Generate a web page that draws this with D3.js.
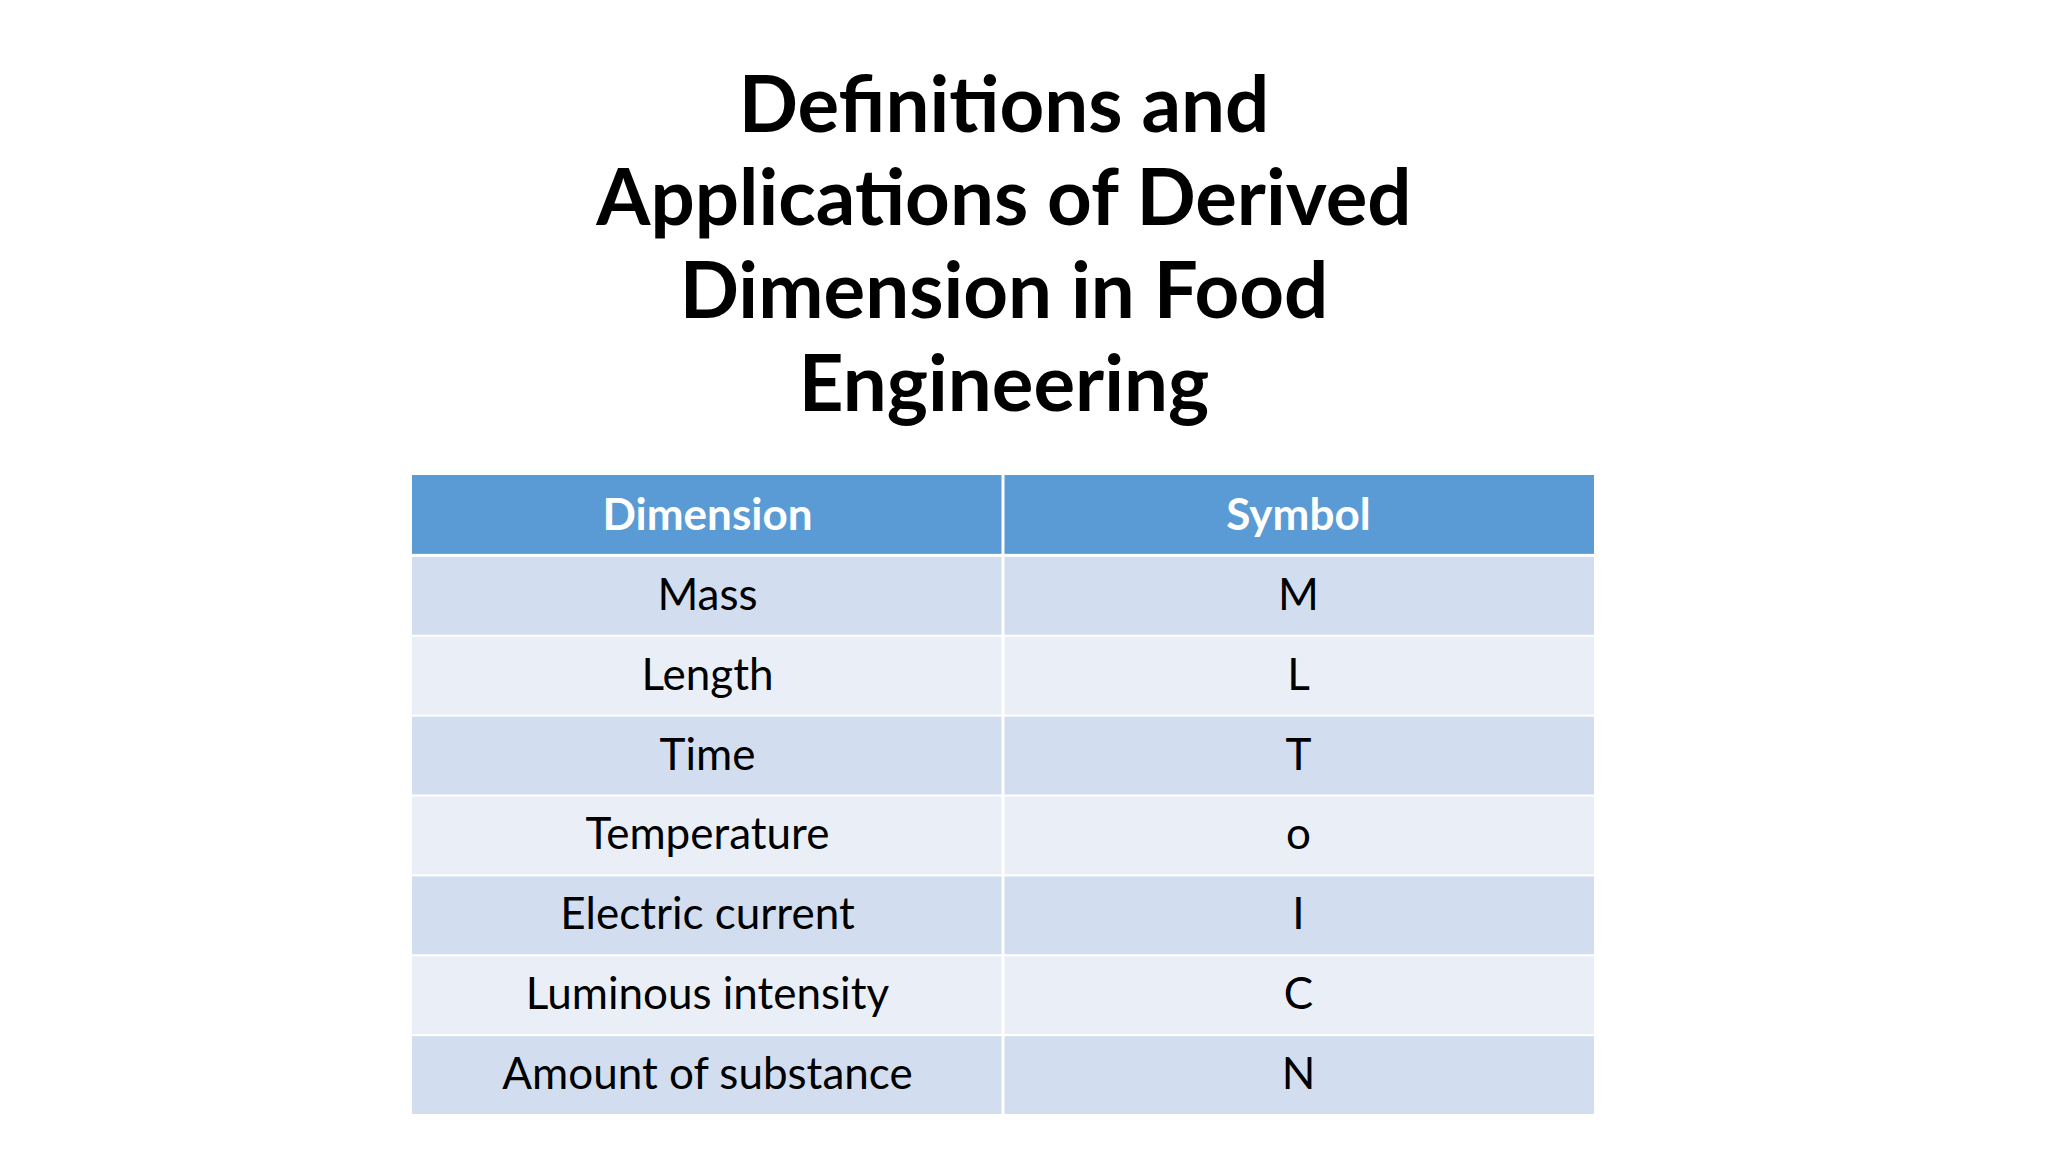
<!DOCTYPE html>
<html><head><meta charset="utf-8">
<script src="https://cdn.jsdelivr.net/npm/d3@7"></script>
<style>body{margin:0;background:#fff}</style></head>
<body><svg id="c" width="2048" height="1152"></svg>
<script>
const titleLines = ["Definitions and","Applications of Derived","Dimension in Food","Engineering"];
const headers = ["Dimension","Symbol"];
const dimensions = ["Mass","Length","Time","Temperature","Electric current","Luminous intensity","Amount of substance"];
const symbols = ["M","L","T","o","I","C","N"];

const svg = d3.select("#c");
const font = "Lato, 'Open Sans', sans-serif";
svg.selectAll("text.t").data(titleLines).join("text")
  .attr("x",1004).attr("y",(d,i)=>132+i*93).attr("text-anchor","middle")
  .attr("font-family",font).attr("font-weight",700).attr("font-size",78).attr("fill","#000").text(d=>d);

const x = d3.scaleBand().domain([0,1]).range([412,1594]);
const y = d3.scaleBand().domain(d3.range(8)).range([475,1114]);
const rows = [headers].concat(dimensions.map((d,i)=>[d,symbols[i]]));
const g = svg.append("g");
rows.forEach((r,i)=>{
  r.forEach((v,j)=>{
    const fill = i===0?"#5B9BD5":(i%2===1?"#D2DEEF":"#EAEFF7");
    g.append("rect").attr("x",x(j)+(j?1.5:0)).attr("y",y(i)+(i?2:0))
     .attr("width",x.bandwidth()-1.5).attr("height",y.bandwidth()-(i?2:1)).attr("fill",fill);
    g.append("text").attr("x",x(j)+x.bandwidth()/2).attr("y",y(i)+y.bandwidth()/2+15)
     .attr("text-anchor","middle").attr("font-family",font).attr("font-size",44)
     .attr("font-weight",i===0?700:400).attr("fill",i===0?"#fff":"#000").text(v);
  });
});
</script></body></html>
